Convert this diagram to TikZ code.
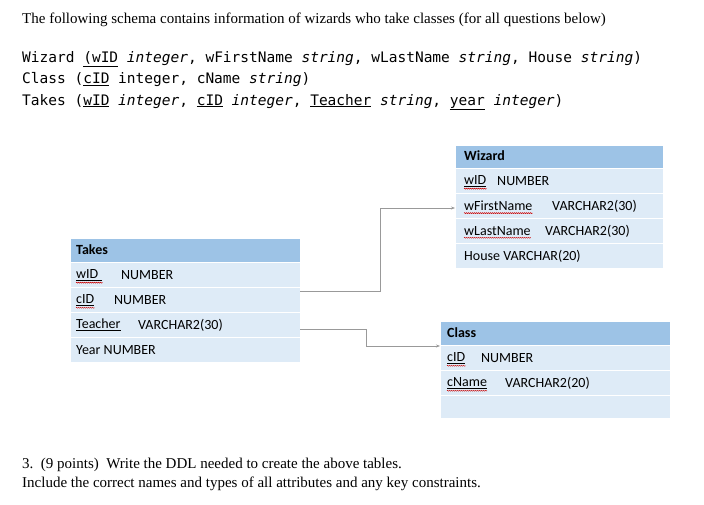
\documentclass[tikz,border=0pt]{standalone}
\usepackage{fontspec}
\setmainfont{Liberation Serif}
\newfontfamily\calfnt{Carlito}
\newfontfamily\monofnt{DejaVu Sans Mono}
\usetikzlibrary{decorations.pathmorphing,arrows.meta}
\definecolor{hdr}{HTML}{9DC3E6}
\definecolor{row}{HTML}{DEEBF7}
\begin{document}
\begin{tikzpicture}[x=1pt,y=-1pt,
  hd/.style={fill=hdr,draw=white,line width=1pt},
  rw/.style={fill=row,draw=white,line width=1pt},
  tx/.style={anchor=west,inner sep=0pt,font=\calfnt\fontsize{14}{16}\selectfont},
  wave/.style={draw=red!80!black,line width=0.5pt,decorate,decoration={snake,amplitude=0.5pt,segment length=2pt}},
  conn/.style={draw=gray!80,line width=0.8pt,-{Stealth[length=4pt,width=3pt]}},
  ml/.style={anchor=west,inner sep=0pt,font=\monofnt\fontsize{14.5}{16}\selectfont}]
\useasboundingbox (0,0) rectangle (704,504);
\node[anchor=west,inner sep=0pt,font=\fontsize{15}{17}\selectfont] (t1) at (22,20) {The following schema contains information of wizards who take classes (for all questions below)};
\node[ml] (m1) at (22,59) {Wizard \underline{(wID} \textit{integer}, wFirstName \textit{string}, wLastName \textit{string}, House \textit{string})};
\node[ml] (m2) at (22,80) {Class (\underline{cID} integer, cName \textit{string})};
\node[ml] (m3) at (22,102) {Takes (\underline{wID} \textit{integer}, \underline{cID} \textit{integer}, \underline{Teacher} \textit{string}, \underline{year} \textit{integer})};
% Wizard
\fill[hd] (455,145) rectangle (663,168);
\foreach \a/\b in {168/193,193/218,218/243,243/268} \fill[rw] (455,\a) rectangle (663,\b);
\node[tx,font=\calfnt\bfseries\fontsize{14}{16}\selectfont] (wh) at (464,156) {Wizard};
\node[tx] (w1) at (464,181) {\underline{wID}}; \node[tx] at (497,181) {NUMBER};
\node[tx] (w2) at (464,206) {wFirstName}; \node[tx] at (552,206) {VARCHAR2(30)};
\node[tx] (w3) at (464,231) {wLastName}; \node[tx] at (545,231) {VARCHAR2(30)};
\node[tx] (w4) at (464,256) {House VARCHAR(20)};
% Takes
\fill[hd] (70,238) rectangle (300,262);
\foreach \a/\b in {262/287,287/312,312/337,337/362} \fill[rw] (70,\a) rectangle (300,\b);
\node[tx,font=\calfnt\bfseries\fontsize{14}{16}\selectfont] (th) at (76,250) {Takes};
\node[tx] (k1) at (76,275) {\underline{wID\hspace{4pt}}}; \node[tx] at (121,275) {NUMBER};
\node[tx] (k2) at (76,300) {\underline{cID}}; \node[tx] at (114,300) {NUMBER};
\node[tx] (k3) at (76,325) {\underline{Teacher}}; \node[tx] at (138,325) {VARCHAR2(30)};
\node[tx] (k4) at (76,350) {Year NUMBER};
% Class
\fill[hd] (440,321) rectangle (670,345);
\foreach \a/\b in {345/370,370/395,395/418} \fill[rw] (440,\a) rectangle (670,\b);
\node[tx,font=\calfnt\bfseries\fontsize{14}{16}\selectfont] (ch) at (447,333) {Class};
\node[tx] (c1) at (447,358) {\underline{cID}}; \node[tx] at (481,358) {NUMBER};
\node[tx] (c2) at (447,383) {\underline{cName}}; \node[tx] at (505,383) {VARCHAR2(20)};
% red waves
\foreach \n in {w1,w2,w3,k1,k2,c1,c2} \draw[wave] ([yshift=-2pt]\n.south west) -- ([yshift=-2pt]\n.south east);
% connectors
\coordinate (p1) at (300,291);
\coordinate (p2) at (300,329);
\coordinate (q1) at (455,208);
\coordinate (q2) at (440,346);
\draw[conn] (p1) -- (380,291) -- (380,208) -- (q1);
\draw[conn] (p2) -- (366,329) -- (366,346) -- (q2);
\node[anchor=west,inner sep=0pt,font=\fontsize{15}{17}\selectfont] (b1) at (22,465) {3.\ \ (9 points)\ \ Write the DDL needed to create the above tables.};
\node[anchor=west,inner sep=0pt,font=\fontsize{15}{17}\selectfont] (b2) at (22,484) {Include the correct names and types of all attributes and any key constraints.};
\end{tikzpicture}
\end{document}
